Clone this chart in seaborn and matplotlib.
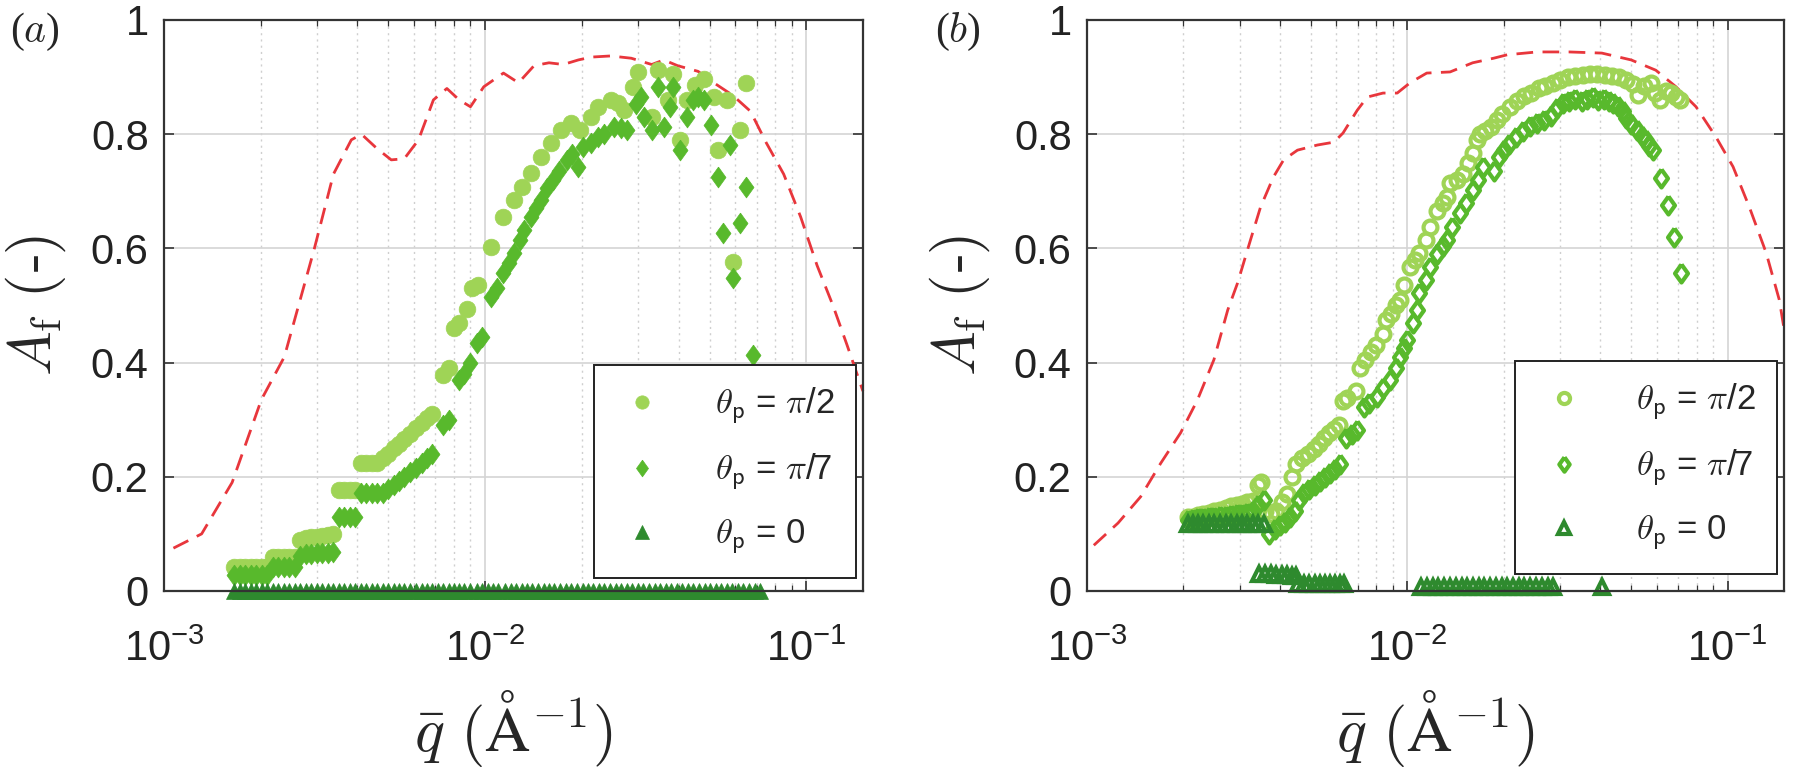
import numpy as np
import pandas as pd
import matplotlib
matplotlib.use("Agg")
import matplotlib.pyplot as plt
import seaborn as sns
from matplotlib.ticker import FixedLocator, FixedFormatter, NullFormatter

# ---------------- data (q in units of 1e-3 1/Angstrom) ----------------
# panel (a): reference dashed curve
ref_q_a = [1.07, 1.31, 1.63, 2.01, 2.37, 2.94, 3.37, 3.83, 4.12, 4.6, 5.1, 5.6, 6.2, 6.9,
           7.6, 8.3, 9.0, 9.9, 11.4, 12.7, 14.2, 15.8, 17.5, 19.5, 21.4, 24.6, 28.5, 33.0,
           36.0, 39.7, 46.0, 51.5, 59.0, 67.0, 75.0, 85.0, 96.0, 108.0, 121.0, 134.0, 150.0]
ref_A_a = [0.075, 0.10, 0.19, 0.335, 0.41, 0.60, 0.73, 0.79, 0.80, 0.775, 0.755, 0.757, 0.79, 0.86,
           0.88, 0.86, 0.848, 0.883, 0.907, 0.89, 0.92, 0.925, 0.922, 0.93, 0.935, 0.937, 0.933, 0.922,
           0.93, 0.92, 0.91, 0.89, 0.868, 0.84, 0.785, 0.73, 0.655, 0.57, 0.50, 0.43, 0.35]

# panel (a): theta_p = pi/2
q_pi2_a = [1.65, 1.72, 1.79, 1.86, 1.94, 2.02, 2.10, 2.18, 2.27, 2.36, 2.45, 2.55,
           2.65, 2.76, 2.87, 2.99, 3.11, 3.24, 3.37, 3.50, 3.64, 3.79, 3.94, 4.10, 4.26, 4.43, 4.60,
           4.80, 5.00, 5.20, 5.40, 5.60, 5.85, 6.10, 6.35, 6.60, 6.85, 7.40, 7.70, 8.0, 8.3, 8.8,
           9.1, 9.5, 10.4, 11.4, 12.3, 13.0, 13.9, 14.9, 16.0, 17.2, 18.5, 19.8, 21.3, 22.5,
           24.6, 25.9, 27.0, 28.8, 30.0, 33.0, 34.5, 37.0, 38.5, 40.5, 42.5, 45.0, 48.0, 51.5,
           53.0, 56.5, 59.0, 62.0, 65.0]
A_pi2_a = [0.042, 0.042, 0.042, 0.042, 0.042, 0.042, 0.042, 0.06, 0.06, 0.06, 0.06, 0.06,
           0.09, 0.092, 0.094, 0.095, 0.096, 0.098, 0.10, 0.177, 0.177, 0.177, 0.177, 0.224, 0.224, 0.224, 0.224,
           0.232, 0.24, 0.25, 0.258, 0.266, 0.275, 0.285, 0.295, 0.303, 0.31, 0.378, 0.39, 0.46, 0.47, 0.493,
           0.53, 0.536, 0.602, 0.655, 0.685, 0.708, 0.732, 0.76, 0.785, 0.807, 0.82, 0.807, 0.83, 0.848,
           0.86, 0.855, 0.842, 0.883, 0.909, 0.83, 0.912, 0.86, 0.905, 0.79, 0.86, 0.886, 0.897, 0.865,
           0.772, 0.86, 0.576, 0.807, 0.89]

# panel (a): theta_p = pi/7
q_pi7_a = [1.65, 1.72, 1.79, 1.86, 1.94, 2.02, 2.10, 2.18, 2.27, 2.36, 2.45, 2.55,
           2.65, 2.76, 2.87, 2.99, 3.11, 3.24, 3.37, 3.50, 3.64, 3.79, 3.94, 4.10, 4.26, 4.43, 4.60,
           4.80, 5.00, 5.20, 5.40, 5.60, 5.85, 6.10, 6.35, 6.60, 6.85, 7.40, 7.70, 8.3, 8.6, 9.0,
           9.4, 9.8, 10.4, 10.9, 11.4, 11.9, 12.3, 12.8, 13.2, 13.9, 14.4, 14.9, 15.6, 16.3, 17.0,
           18.0, 18.7, 19.4, 20.2, 21.4, 22.5, 23.4, 25.2, 26.5, 27.7, 29.4, 30.5, 31.3, 33.0,
           34.5, 36.0, 37.7, 38.5, 40.5, 42.5, 44.5, 46.0, 48.0, 50.5, 53.0, 55.0, 58.0, 59.0,
           62.0, 65.0, 68.0]
A_pi7_a = [0.028, 0.028, 0.028, 0.028, 0.028, 0.028, 0.028, 0.042, 0.042, 0.042, 0.042, 0.042,
           0.062, 0.064, 0.065, 0.066, 0.066, 0.067, 0.068, 0.13, 0.13, 0.13, 0.13, 0.172, 0.172, 0.172, 0.172,
           0.172, 0.178, 0.185, 0.192, 0.20, 0.208, 0.216, 0.224, 0.232, 0.24, 0.29, 0.30, 0.37, 0.38, 0.40,
           0.435, 0.445, 0.515, 0.53, 0.557, 0.575, 0.592, 0.615, 0.632, 0.655, 0.67, 0.685, 0.705, 0.72, 0.735,
           0.755, 0.765, 0.743, 0.778, 0.785, 0.795, 0.80, 0.813, 0.81, 0.807, 0.853, 0.865, 0.83, 0.807,
           0.883, 0.813, 0.848, 0.883, 0.772, 0.83, 0.86, 0.865, 0.86, 0.816, 0.725, 0.627, 0.781, 0.548,
           0.644, 0.707, 0.413]

# panel (a): theta_p = 0
q_0_a = [1.65, 1.72, 1.79, 1.86, 1.94, 2.02, 2.10, 2.18, 2.27, 2.36, 2.45, 2.55, 2.65, 2.76,
         2.87, 2.99, 3.11, 3.24, 3.37, 3.50, 3.64, 3.79, 3.94, 4.10, 4.26, 4.43, 4.60, 4.80, 5.00,
         5.20, 5.40, 5.60, 5.85, 6.10, 6.35, 6.60, 6.85, 7.15, 7.40, 7.70, 8.00, 8.30, 8.60, 9.00,
         9.40, 9.80, 10.2, 10.6, 11.0, 11.5, 12.0, 12.5, 13.0, 13.5, 14.0, 14.6, 15.2, 15.8, 16.4,
         17.1, 17.8, 18.5, 19.3, 20.1, 20.9, 21.7, 22.6, 23.5, 24.5, 25.5, 26.5, 27.6, 28.7, 29.9,
         31.1, 32.4, 33.7, 35.0, 36.5, 38.0, 39.5, 41.1, 42.8, 44.5, 46.3, 48.2, 50.1, 52.2, 54.3,
         56.5, 58.8, 61.2, 63.7, 66.3, 69.0, 71.8]
A_0_a = [0.0] * 96

# panel (b): reference dashed curve
ref_q_b = [1.05, 1.25, 1.47, 1.70, 1.96, 2.21, 2.49, 2.75, 2.95, 3.24, 3.48, 3.82, 4.11, 4.54,
           5.24, 5.9, 6.3, 6.98, 7.5, 8.4, 9.3, 10.2, 11.5, 13.6, 16.0, 18.6, 20.5, 25.4, 32.0,
           40.5, 50.0, 59.7, 69.0, 79.7, 92.0, 104.0, 117.0, 132.0, 145.0, 150.0]
ref_A_b = [0.08, 0.119, 0.165, 0.224, 0.277, 0.334, 0.405, 0.492, 0.539, 0.615, 0.672, 0.725, 0.755, 0.772,
           0.781, 0.786, 0.802, 0.842, 0.865, 0.872, 0.872, 0.89, 0.907, 0.909, 0.925, 0.933, 0.939, 0.944, 0.944,
           0.942, 0.93, 0.912, 0.883, 0.848, 0.795, 0.743, 0.672, 0.592, 0.51, 0.46]

# panel (b): theta_p = pi/2
q_pi2_b = [2.06, 2.14, 2.22, 2.31, 2.40, 2.50, 2.60, 2.71, 2.82, 2.93, 3.05, 3.17, 3.30, 3.41, 3.50,
           3.60, 3.75, 3.90, 4.05, 4.20, 4.35, 4.50, 4.70, 4.90, 5.10, 5.30, 5.50, 5.70, 5.90, 6.10,
           6.30, 6.50, 6.90, 7.10, 7.40, 7.70, 8.00, 8.40, 8.60, 8.90, 9.20, 9.50, 9.80, 10.2, 10.6,
           10.9, 11.4, 11.8, 12.4, 12.9, 13.3, 13.6, 14.3, 14.9, 15.5, 16.0, 16.5, 16.9, 17.5, 18.2,
           19.0, 19.8, 20.9, 22.0, 23.2, 24.4, 25.7, 27.0, 28.5, 30.0, 31.7, 33.5, 35.3, 37.2, 39.2,
           41.3, 43.5, 45.8, 48.2, 50.7, 52.7, 55.0, 57.5, 59.5, 61.5, 64.0, 66.5, 69.0, 71.0]
A_pi2_b = [0.13, 0.13, 0.133, 0.135, 0.137, 0.14, 0.142, 0.145, 0.148, 0.15, 0.152, 0.155, 0.158, 0.185, 0.19,
           0.14, 0.135, 0.14, 0.155, 0.17, 0.20, 0.222, 0.232, 0.24, 0.248, 0.258, 0.268, 0.276, 0.283, 0.29,
           0.332, 0.338, 0.35, 0.39, 0.405, 0.418, 0.43, 0.45, 0.475, 0.485, 0.50, 0.51, 0.535, 0.567, 0.58,
           0.592, 0.615, 0.637, 0.665, 0.68, 0.69, 0.714, 0.72, 0.73, 0.75, 0.767, 0.79, 0.80, 0.805, 0.812,
           0.825, 0.835, 0.848, 0.858, 0.866, 0.872, 0.88, 0.885, 0.89, 0.895, 0.90, 0.902, 0.904, 0.905, 0.905,
           0.904, 0.902, 0.90, 0.895, 0.888, 0.868, 0.885, 0.89, 0.872, 0.86, 0.875, 0.872, 0.865, 0.86]

# panel (b): theta_p = pi/7
q_pi7_b = [2.06, 2.14, 2.22, 2.31, 2.40, 2.50, 2.60, 2.71, 2.82, 2.93, 3.05, 3.17, 3.30, 3.43, 3.56,
           3.70, 3.85, 4.00, 4.15, 4.30, 4.45, 4.60, 4.75, 4.95, 5.15, 5.35, 5.55, 5.75, 5.95, 6.15,
           6.45, 6.70, 6.98, 7.30, 7.60, 8.05, 8.40, 8.85, 9.20, 9.50, 9.80, 10.0, 10.4, 10.7, 10.9,
           11.4, 11.8, 12.4, 12.9, 13.3, 13.8, 14.6, 15.3, 16.0, 16.6, 17.2, 18.6, 19.3, 20.0, 20.8,
           21.9, 23.0, 24.2, 25.4, 26.7, 28.0, 29.4, 30.6, 32.0, 33.5, 35.0, 36.5, 38.0, 39.5, 41.0,
           42.5, 44.0, 45.5, 47.0, 48.3, 50.0, 52.0, 54.0, 55.7, 57.0, 58.3, 62.0, 65.0, 68.0, 71.5]
A_pi7_b = [0.125, 0.126, 0.127, 0.128, 0.129, 0.13, 0.131, 0.132, 0.133, 0.134, 0.135, 0.137, 0.14, 0.15, 0.16,
           0.10, 0.108, 0.115, 0.12, 0.13, 0.14, 0.16, 0.172, 0.178, 0.186, 0.193, 0.20, 0.206, 0.213, 0.222,
           0.268, 0.275, 0.282, 0.322, 0.33, 0.34, 0.355, 0.37, 0.39, 0.41, 0.425, 0.44, 0.47, 0.492, 0.522,
           0.545, 0.567, 0.59, 0.605, 0.615, 0.637, 0.662, 0.68, 0.702, 0.72, 0.743, 0.735, 0.76, 0.772, 0.783,
           0.795, 0.805, 0.815, 0.82, 0.825, 0.832, 0.845, 0.855, 0.858, 0.862, 0.858, 0.862, 0.865, 0.86, 0.862,
           0.858, 0.855, 0.85, 0.84, 0.828, 0.818, 0.807, 0.797, 0.79, 0.78, 0.772, 0.723, 0.676, 0.62, 0.557]

# panel (b): theta_p = 0
q_0_b = [2.06, 2.14, 2.22, 2.31, 2.40, 2.50, 2.60, 2.71, 2.82, 2.93, 3.05, 3.17, 3.30, 3.43, 3.56,
         3.45, 3.60, 3.75, 3.90, 4.05, 4.20, 4.35, 4.50,
         4.55, 4.75, 4.95, 5.15, 5.35, 5.55, 5.75, 5.95, 6.15, 6.35,
         11.0, 11.5, 12.0, 12.5, 13.0, 13.6, 14.2, 14.8, 15.4, 16.0, 16.7, 17.4, 18.1, 18.9, 19.7,
         20.5, 21.4, 22.3, 23.2, 24.2, 25.2, 26.3, 27.4, 28.5, 40.4]
A_0_b = [0.118, 0.118, 0.118, 0.118, 0.118, 0.118, 0.118, 0.118, 0.118, 0.118, 0.118, 0.118, 0.118, 0.118, 0.118,
         0.030, 0.030, 0.030, 0.028, 0.028, 0.028, 0.026, 0.026,
         0.013, 0.013, 0.013, 0.013, 0.013, 0.013, 0.013, 0.013, 0.013, 0.013,
         0.007, 0.007, 0.007, 0.007, 0.007, 0.007, 0.007, 0.007, 0.007, 0.007, 0.007, 0.007, 0.007, 0.007, 0.007,
         0.007, 0.007, 0.007, 0.007, 0.007, 0.007, 0.007, 0.007, 0.007, 0.007]

series_labels = [r"$\theta_{\mathsf{p}}$ = $\pi$/2", r"$\theta_{\mathsf{p}}$ = $\pi$/7", r"$\theta_{\mathsf{p}}$ = 0"]
x_ticks = [1e-3, 1e-2, 1e-1]
x_tick_labels = [r"$\mathregular{10^{-3}}$", r"$\mathregular{10^{-2}}$", r"$\mathregular{10^{-1}}$"]
y_ticks = [0, 0.2, 0.4, 0.6, 0.8, 1.0]
y_tick_labels = ["0", "0.2", "0.4", "0.6", "0.8", "1"]
panel_labels = ["a", "b"]

# ---------------- style ----------------
sns.set_theme(style="white")
plt.rcParams["font.family"] = ["Liberation Sans", "DejaVu Sans"]
plt.rcParams["mathtext.fontset"] = "cm"

C_LIGHT = "#9fd456"
C_MID = "#58b92c"
C_DARK = "#2e8a2e"
C_RED = "#e8363c"
C_SPINE = "#333333"
SERIF = ["Liberation Serif", "DejaVu Serif"]

fig = plt.figure(figsize=(18, 7.71), dpi=100)
ax_a = fig.add_axes([0.0911, 0.2335, 0.3883, 0.7406])
ax_b = fig.add_axes([0.6039, 0.2335, 0.3872, 0.7406])

# wide diamond marker like the reference
DIAMOND = [(0, 1), (0.72, 0), (0, -1), (-0.72, 0), (0, 1)]


def mk(q):
    return np.asarray(q, dtype=float) * 1e-3


def style_axes(ax):
    ax.set_xscale("log")
    ax.set_xlim(1e-3, 0.15)
    ax.set_ylim(0, 1)
    ax.xaxis.set_major_locator(FixedLocator(x_ticks))
    ax.xaxis.set_major_formatter(FixedFormatter(x_tick_labels))
    minors = [m * d for d in (1e-3, 1e-2, 1e-1) for m in range(2, 10) if m * d < 0.15]
    ax.xaxis.set_minor_locator(FixedLocator(minors))
    ax.xaxis.set_minor_formatter(NullFormatter())
    ax.yaxis.set_major_locator(FixedLocator(y_ticks))
    ax.yaxis.set_major_formatter(FixedFormatter(y_tick_labels))
    ax.grid(True, which="major", axis="both", color="#d4d4d4", linewidth=1.2, linestyle="-")
    ax.grid(True, which="minor", axis="x", color="#cfcfcf", linewidth=1.0, linestyle=(0, (1.5, 3)))
    ax.set_axisbelow(True)
    for s in ax.spines.values():
        s.set_visible(True)
        s.set_color(C_SPINE)
        s.set_linewidth(1.6)
    ax.tick_params(which="both", direction="in", top=True, right=True, bottom=True, left=True,
                   colors=C_SPINE, labelcolor="#222222")
    ax.tick_params(which="major", length=7, width=1.2)
    ax.tick_params(which="minor", length=4, width=0.9)
    ax.tick_params(axis="x", which="major", labelsize=30, pad=28)
    ax.tick_params(axis="y", which="major", labelsize=30, pad=11)
    ax.set_xlabel(r"$\bar{q}\ (\mathrm{\AA}^{-1})$", fontsize=45)
    ax.set_ylabel(r"$A_{\mathrm{f}}\ ($-$)$", fontsize=43, family=SERIF)
    ax.xaxis.set_label_coords(0.5, -0.170)
    ax.yaxis.set_label_coords(-0.137, 0.5)


def draw(ax, ref_q, ref_A, data, filled, leg_kw):
    sns.lineplot(x=mk(ref_q), y=ref_A, ax=ax, color=C_RED, linewidth=2.0,
                 linestyle=(0, (6.0, 3.4)), estimator=None, sort=False, clip_on=False)
    markers = ["o", DIAMOND, "^"]
    colors = [C_LIGHT, C_MID, C_DARK]
    if filled:
        sizes = [12, 15, 12]
    else:
        sizes = [10, 13, 10.5]
    for (q, A), m, c, ms, lab in zip(data, markers, colors, sizes, series_labels):
        if filled:
            kw = dict(markerfacecolor=c, markeredgecolor=c, markeredgewidth=0.5)
        else:
            kw = dict(markerfacecolor="none", markeredgecolor=c, markeredgewidth=3.0)
        sns.lineplot(x=mk(q), y=A, ax=ax, marker=m, markersize=ms, linestyle="none",
                     color=c, estimator=None, sort=False, label=lab, clip_on=False, **kw)
    leg = ax.legend(loc="lower right", borderaxespad=0, frameon=True, fancybox=False,
                    framealpha=1, edgecolor="#222222", **leg_kw)
    leg.get_frame().set_linewidth(1.4)


style_axes(ax_a)
style_axes(ax_b)
legend_style = dict(fontsize=25, markerscale=0.8, borderpad=0.6,
                    handlelength=1.6, handletextpad=1.3, labelspacing=0.72)
draw(ax_a, ref_q_a, ref_A_a, [(q_pi2_a, A_pi2_a), (q_pi7_a, A_pi7_a), (q_0_a, A_0_a)], True,
     dict(bbox_to_anchor=(0.99, 0.023), **legend_style))
draw(ax_b, ref_q_b, ref_A_b, [(q_pi2_b, A_pi2_b), (q_pi7_b, A_pi7_b), (q_0_b, A_0_b)], False,
     dict(bbox_to_anchor=(0.99, 0.03), **legend_style))

fig.text(0.0195, 0.958, "(" + r"$\mathit{" + panel_labels[0] + "}$" + ")", fontsize=30,
         ha="center", va="center", family=SERIF)
fig.text(0.532, 0.958, "(" + r"$\mathit{" + panel_labels[1] + "}$" + ")", fontsize=30,
         ha="center", va="center", family=SERIF)

fig.savefig("out.png", dpi=100, facecolor="white")
